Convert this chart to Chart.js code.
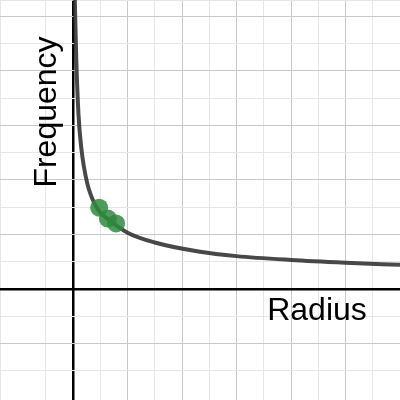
<!DOCTYPE html>
<html><head>
<script src="https://cdn.jsdelivr.net/npm/chart.js@4"></script>
<style>html,body{margin:0;padding:0;background:#fff}#c{width:400px;height:400px}</style>
</head><body>
<div id="c"><canvas id="graph"></canvas></div>
<script>
// curve (grid units)
var curveX = [0.03, 0.06, 0.1, 0.15, 0.26, 0.46, 0.64, 1, 1.5, 2.33, 3, 4, 5, 6];
var curveY = [5.4, 4.2, 3.2, 2.6, 1.94, 1.45, 1.28, 1.03, 0.85, 0.68, 0.6, 0.53, 0.48, 0.44];
// measured points
var pointX = [0.48, 0.64, 0.79];
var pointY = [1.49, 1.29, 1.2];

var labelPlugin = {
    id: 'labels',
    afterDraw: function(chart) {
        var ctx = chart.ctx;
        ctx.save();
        ctx.fillStyle = '#000';
        ctx.font = '32px "Liberation Sans", Arial, sans-serif';
        ctx.textAlign = 'center';
        ctx.textBaseline = 'middle';
        ctx.fillText('Radius', 317, 311);
        ctx.translate(47, 112);
        ctx.rotate(-Math.PI / 2);
        ctx.fillText('Frequency', 0, 0);
        ctx.restore();
    }
};

function gridColor(c) {
    var v = c.tick.value;
    if (Math.abs(v) < 1e-9) return '#000';
    return Math.abs(v - Math.round(v)) < 1e-9 ? '#c8c8c8' : '#e6e6e6';
}
function gridWidth(c) {
    return Math.abs(c.tick.value) < 1e-9 ? 2.5 : 1;
}

new Chart(document.querySelector('#graph'), {
    type: 'scatter',
    data: {
        datasets: [
            {
                data: pointX.map(function(x, i) { return {x: x, y: pointY[i]}; }),
                backgroundColor: 'rgba(46,139,62,0.85)',
                borderWidth: 0,
                pointRadius: 9
            },
            {
                type: 'line',
                data: curveX.map(function(x, i) { return {x: x, y: curveY[i]}; }),
                borderColor: 'rgba(40,40,40,0.85)',
                borderWidth: 4,
                pointRadius: 0,
                cubicInterpolationMode: 'monotone',
                fill: false
            }
        ]
    },
    plugins: [labelPlugin],
    options: {
        responsive: true,
        maintainAspectRatio: false,
        animation: false,
        layout: { padding: 0, autoPadding: false },
        plugins: { legend: { display: false }, tooltip: { enabled: false } },
        scales: {
            x: {
                type: 'linear', min: -1.34, max: 6,
                ticks: { display: false, stepSize: 0.5, padding: 0 },
                border: { display: false },
                grid: { color: gridColor, lineWidth: gridWidth, drawTicks: false }
            },
            y: {
                type: 'linear', min: -2.04, max: 5.3,
                ticks: { display: false, stepSize: 0.5, padding: 0 },
                border: { display: false },
                grid: { color: gridColor, lineWidth: gridWidth, drawTicks: false }
            }
        }
    }
});
</script>
</body></html>
